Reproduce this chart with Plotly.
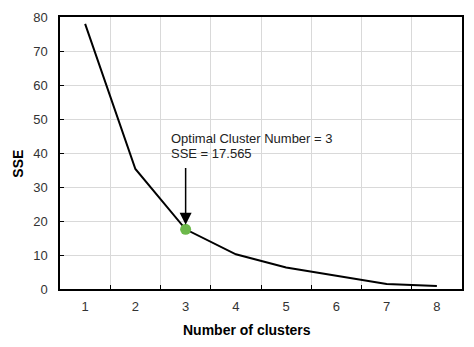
import plotly.graph_objects as go

clusters = [1, 2, 3, 4, 5, 6, 7, 8]
sse = [78.0, 35.3, 17.565, 10.2, 6.3, 4.0, 1.5, 0.9]
optimal_k = 3
optimal_sse = 17.565
y_ticks = [0, 10, 20, 30, 40, 50, 60, 70, 80]

FONT = "Arial, Liberation Sans, sans-serif"

fig = go.Figure()
fig.add_trace(go.Scatter(x=clusters, y=sse, mode="lines",
                         line=dict(color="black", width=2), showlegend=False,
                         hoverinfo="skip"))
fig.add_trace(go.Scatter(x=[optimal_k], y=[optimal_sse], mode="markers",
                         marker=dict(color="#6cb84a", size=11, line=dict(width=0)),
                         showlegend=False))

fig.add_annotation(x=optimal_k, y=optimal_sse + 1.3, ax=optimal_k, ay=36,
                   xref="x", yref="y", axref="x", ayref="y",
                   showarrow=True, arrowhead=2, arrowsize=1.6, arrowwidth=1.5,
                   arrowcolor="black", text="")
fig.add_annotation(x=2.66, y=44.2, xref="x", yref="y", xanchor="left", yanchor="middle",
                   showarrow=False, align="left",
                   text=f"Optimal Cluster Number = {optimal_k}",
                   font=dict(family=FONT, size=13, color="#222"))
fig.add_annotation(x=2.66, y=39.8, xref="x", yref="y", xanchor="left", yanchor="middle",
                   showarrow=False, align="left",
                   text=f"SSE = {optimal_sse}",
                   font=dict(family=FONT, size=13, color="#222"))
fig.add_annotation(x=0.465, y=-0.15, xref="paper", yref="paper", xanchor="center",
                   yanchor="middle", showarrow=False, text="<b>Number of clusters</b>",
                   font=dict(family=FONT, size=14, color="black"))
fig.add_annotation(x=-0.105, y=0.46, xref="paper", yref="paper", xanchor="center",
                   yanchor="middle", showarrow=False, text="<b>SSE</b>", textangle=-90,
                   font=dict(family=FONT, size=14, color="black"))

grid_pos = [1.5, 2.5, 3.5, 4.5, 5.5, 6.5, 7.5]
fig.update_xaxes(range=[0.5, 8.5], tickvals=clusters, ticktext=[str(c) for c in clusters],
                 showgrid=False, ticks="", showline=True, linecolor="black", linewidth=1.5,
                 mirror=True, zeroline=False, ticklabelstandoff=5,
                 tickfont=dict(family=FONT, size=13, color="#333"),
                 minor=dict(tickvals=grid_pos, showgrid=True, gridcolor="#d9d9d9",
                            gridwidth=1, ticks="inside", ticklen=4, tickcolor="black",
                            tickwidth=1))
fig.update_yaxes(range=[0, 80], tickvals=y_ticks, showgrid=True, gridcolor="#d9d9d9",
                 gridwidth=1, ticks="inside", ticklen=4, tickcolor="black",
                 showline=True, linecolor="black", linewidth=1.5, mirror=True,
                 zeroline=False, ticklabelstandoff=8,
                 tickfont=dict(family=FONT, size=13, color="#333"))

fig.update_layout(width=474, height=347, margin=dict(l=60, r=10, t=15, b=58),
                  plot_bgcolor="white", paper_bgcolor="white")
fig.write_html("out.html")
